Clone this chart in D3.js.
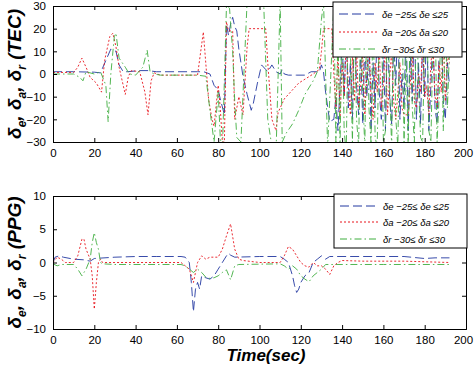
<!DOCTYPE html>
<html><head><meta charset="utf-8">
<script src="https://cdn.jsdelivr.net/npm/d3@7"></script>
<style>body{margin:0;background:#fff}svg{display:block}text{font-family:"Liberation Sans",Arial,sans-serif}</style>
</head><body><svg id="c" width="474" height="366"></svg>
<script>
// ---------- DATA ----------
const seriesNames = ["δe  −25≤ δe ≤25", "δa  −20≤ δa ≤20", "δr  −30≤ δr ≤30"];
const xTicks = [0,20,40,60,80,100,120,140,160,180,200];
const tecYTicks = [-30,-20,-10,0,10,20,30];
const ppgYTicks = [-10,-5,0,5,10];

// TEC panel: [time, value]
const tecElevator = [[0,1],[10,1],[20,0.8],[23,0.5],[25.6,6],[28,11],[30.5,10],[32,4],[34,1],[36,1],[42,1.5],[46,1.5],[50,1],[60,1],[70,1],[73,1],[76,0],[78,-5],[80,-7],[81,-11],[83,-18],[84,22],[85,17],[86,22],[87,25],[88,21],[89,19],[90,11],[92,-1],[94,-9],[96,-16],[97,-13],[99,-4],[101,4],[103,2],[104,1],[106,4],[108,1],[110,0],[111,2],[112,0],[114,-0.5],[118,-0.5],[122,-0.5],[125,1],[129,1],[130,4],[131,1],[132,-8],[134,-21],
[136,-20],[137,-10],[138,-25],[139,-5],[140,15],[141,-10],[142,20],[143,-15],[144,5],[145,-20],[146,25],[147,-5],[148,-18],[149,10],[150,-22],[151,15],[152,-10],[153,20],[154,-25],[155,5],[156,-15],[157,25],[158,-8],[159,-20],[160,12],[161,-25],[162,20],[163,-10],[164,-22],[165,15],[166,-5],[167,25],[168,-20],[169,0],[170,-15],[171,22],[172,-25],[173,10],[174,-12],[175,25],[176,-20],[177,5],[178,-22],[179,15],[180,-10],[181,25],[182,-25],[183,-5],[184,18],[185,-15],[186,-22],[187,10],[188,25],[189,-12],[190,-20],[191,5],[192,-5]];
const tecAileron = [[0,0.7],[10,0.7],[12,3],[14,7],[16,3],[18,-1.5],[21,-4],[23.5,-8],[25,6],[27.5,16.5],[29,18],[30.5,12],[32,3],[34,-5],[35,-9],[36.5,-1],[38,1.5],[42,1],[44.5,-8],[46,-18],[47.5,-3],[49,0.5],[52,-0.5],[60,-0.5],[70,-0.5],[72.8,18.5],[75.4,-11.5],[77,-20],[78,-23],[80,-5],[81,-15],[82,-30],[83,-30],[84,23],[85,19],[87,19],[88,-20],[90,-10],[92,-18],[94,12],[95,20],[103,20],[104,5],[106,-20],[108,-25],[109,-17],[112,-11],[115,-8],[119,-4],[126,0],[129,2],[130,10],[131,20],[135,20],
[136,0],[137,-15],[138,10],[139,-20],[140,5],[141,-10],[142,15],[143,-5],[144,-18],[145,8],[146,-12],[147,12],[148,-15],[149,-5],[150,10],[151,-18],[152,0],[153,15],[154,-10],[155,-20],[156,5],[157,-8],[158,12],[159,-15],[160,-5],[161,15],[162,-18],[163,-2],[164,10],[165,-12],[166,-20],[167,-8],[168,5],[169,-15],[170,-18],[171,-18],[172,-18],[173,-5],[174,10],[175,-12],[176,-15],[177,0],[178,-8],[179,15],[180,-10],[181,-5],[182,-18],[183,5],[184,12],[185,-10],[186,-15],[187,5],[188,-8],[189,15],[190,-12],[191,10],[192,5]];
const tecRudder = [[0,0],[10,0],[13,-1.5],[14.5,-3],[16,1],[20,0],[23,1],[25.6,-5],[26.7,-21],[28,0],[29.7,16.5],[30.5,18],[32,7],[35,3],[37,0],[40,-0.5],[43.5,3],[45.6,10.5],[47,1],[49,0],[52,-0.5],[60,-0.5],[70,-0.5],[74,-1],[76,-16],[78,-30],[80,-8],[81,-28],[82,-35],[84,30],[85.5,29],[87,10],[88,-12],[89,-28],[91,-30],[94,32],[98,32],[102,32],[104,-20],[106,-32],[108,-35],[110,32],[111,-30],[113,-26],[116,-22],[119,-16],[122,-9],[126,-3],[128,1],[130,24],[131,32],[133,-32],
[136,30],[137,-30],[138,20],[139,-32],[140,30],[141,-25],[142,-35],[143,30],[144,10],[145,-30],[146,32],[147,-20],[148,-32],[149,25],[150,-10],[151,-32],[152,30],[153,-15],[154,-30],[155,30],[156,-28],[157,-32],[158,20],[159,30],[160,-30],[161,-25],[162,32],[163,-5],[164,-32],[165,30],[166,-20],[167,-32],[168,28],[169,30],[170,-30],[171,10],[172,-32],[173,25],[174,-15],[175,-30],[176,32],[177,-5],[178,-28],[179,-30],[180,20],[181,32],[182,-25],[183,-30],[184,15],[185,30],[186,-30],[187,-10],[188,28],[189,-25],[190,30],[191,-15],[192,10]];

// PPG panel: [time, value]
const ppgElevator = [[0,0],[1,0.8],[3,1],[5,0.8],[10,0.5],[15,0.4],[18,0.2],[20,0.6],[30,0.8],[40,0.9],[50,0.9],[62,0.9],[64,0.8],[66,0],[67,-3],[68,-7.4],[69,-4],[70,-3],[71,-4],[72,-2],[74,-2.3],[76,-2.5],[78,-2],[80,-1],[82,0],[84,1],[85,1.4],[86,1.1],[88,0.8],[100,0.9],[110,0.9],[112,0.5],[114,0],[116,-2],[117,-3.5],[118,-4.5],[119,-4],[120,-3],[122,-2],[124,-1.5],[126,0],[128,0.5],[130,1],[132,0.5],[134,0.9],[150,0.9],[170,0.9],[180,0.6],[185,0.7],[192,0.7]];
const ppgAileron = [[0,0],[2,0.8],[4,0.5],[6,0],[10,0],[12,1],[14,3.5],[15,3.5],[16,2],[18,0.5],[19,-2],[20,-7],[21,-3],[22,0],[23,0.5],[24,0],[30,0],[45,0],[62,0],[64,-0.5],[66,-1],[68,-3],[70,0],[72,1],[74,0.5],[76,0.8],[80,0.8],[82,2],[84,4],[86,5.8],[88,2],[90,0.5],[92,0.3],[100,0],[110,0],[112,1],[114,2.4],[116,2],[118,1],[120,0],[122,-0.5],[124,-0.7],[126,0],[128,-0.5],[130,-0.5],[132,-1],[134,-1.8],[136,-0.5],[138,0],[140,0.3],[150,0.2],[170,0.2],[192,0]];
const ppgRudder = [[0,-0.2],[2,-0.5],[4,-0.3],[10,-0.3],[12,-1],[14,-2],[15,-1.5],[16,-1],[18,0.5],[19,3],[20,4.5],[21,3],[22,2],[23,0],[24,-0.2],[30,-0.3],[62,-0.3],[64,-0.5],[66,-1],[68,-1.5],[70,-1],[72,-1.5],[74,-2.2],[76,-2.4],[78,-2.3],[80,-2],[82,-1.5],[84,-1.1],[86,-2.6],[88,-0.5],[90,-0.3],[110,-0.2],[112,-0.5],[114,-1],[116,-0.5],[118,-1],[120,-2],[122,-2.5],[124,-2.9],[126,-2],[128,-1.5],[130,-1],[132,-0.3],[140,-0.3],[160,-0.3],[192,-0.3]];

// ---------- DRAW ----------
const svg = d3.select("#c");
const colors = ["#2338a0", "#e8141c", "#3fae3f"];
const dashes = ["9,4", "2,2", "7,3,1.5,3"];

function panel(opts){
  const {top, bottom, yDomain, yTicks, series, label, legendBox, id} = opts;
  const left = 53, right = 466;
  const x = d3.scaleLinear().domain([0,200]).range([left,right]);
  const y = d3.scaleLinear().domain(yDomain).range([bottom,top]);
  const g = svg.append("g");
  g.append("clipPath").attr("id", id).append("rect")
    .attr("x", left).attr("y", top).attr("width", right-left).attr("height", bottom-top);
  const line = d3.line().x(d=>x(d[0])).y(d=>y(d[1]));
  series.forEach((s,i)=>{
    g.append("path").datum(s).attr("d", line).attr("clip-path", `url(#${id})`)
      .attr("fill","none").attr("stroke", colors[i]).attr("stroke-width", 0.9)
      .attr("stroke-dasharray", dashes[i]);
  });
  // axes (ticks inward on all sides)
  const axB = d3.axisBottom(x).tickValues(xTicks).tickSize(-4).tickPadding(7).tickFormat(d3.format("d"));
  const axT = d3.axisTop(x).tickValues(xTicks).tickSize(-4).tickFormat("");
  const axL = d3.axisLeft(y).tickValues(yTicks).tickSize(-4).tickPadding(7).tickFormat(d3.format("d"));
  const axR = d3.axisRight(y).tickValues(yTicks).tickSize(-4).tickFormat("");
  [[axB,`translate(0,${bottom})`],[axT,`translate(0,${top})`],[axL,`translate(${left},0)`],[axR,`translate(${right},0)`]].forEach(([a,t],k)=>{
    const ag = g.append("g").attr("transform", t).call(a);
    ag.selectAll("path.domain").attr("stroke","#000").attr("stroke-width",1);
    ag.selectAll("line").attr("stroke","#000");
    ag.selectAll("text").attr("font-size", 11.5).attr("fill","#000").attr("font-family","Liberation Sans, Arial, sans-serif");
    if (k===0) ag.selectAll("text").filter(d=>d===200).attr("dx",-3);
  });
  // y label
  const yl = g.append("text").attr("transform", `translate(21,${(top+bottom)/2}) rotate(-90)`)
    .attr("text-anchor","middle").attr("font-size",19).attr("font-weight","bold").attr("font-style","italic");
  [["δ","e"],["δ","a"],["δ","r"]].forEach((p,i)=>{
    yl.append("tspan").text(p[0]);
    yl.append("tspan").text(p[1]).attr("font-size",12).attr("dy",5);
    yl.append("tspan").text(i<2 ? ", " : " ").attr("dy",-5);
  });
  yl.append("tspan").text(label);
  // legend
  const [lx,ly,lw,lh,rows] = legendBox;
  const lg = g.append("g");
  lg.append("rect").attr("x",lx).attr("y",ly).attr("width",lw).attr("height",lh)
    .attr("fill","#fff").attr("stroke","#000").attr("stroke-width",1);
  seriesNames.forEach((n,i)=>{
    lg.append("line").attr("x1",lx+6).attr("x2",lx+44).attr("y1",rows[i]).attr("y2",rows[i])
      .attr("stroke",colors[i]).attr("stroke-dasharray",dashes[i]).attr("stroke-width",1);
    lg.append("text").attr("x",lx+49).attr("y",rows[i]+3.5).attr("font-size",9.5)
      .attr("font-style","italic").text(n);
  });
}

panel({id:"c1", top:6, bottom:142, yDomain:[-30,30], yTicks:tecYTicks,
  series:[tecElevator, tecAileron, tecRudder], label:"(TEC)", legendBox:[333,2,129,55,[14,32,49]]});
panel({id:"c2", top:196, bottom:329, yDomain:[-10,10], yTicks:ppgYTicks,
  series:[ppgElevator, ppgAileron, ppgRudder], label:"(PPG)", legendBox:[334,194,133,54,[206,222,239]]});

svg.append("text").attr("x",266).attr("y",361).attr("text-anchor","middle")
  .attr("font-size",17).attr("font-weight","bold").attr("font-style","italic").text("Time(sec)");
</script></body></html>
